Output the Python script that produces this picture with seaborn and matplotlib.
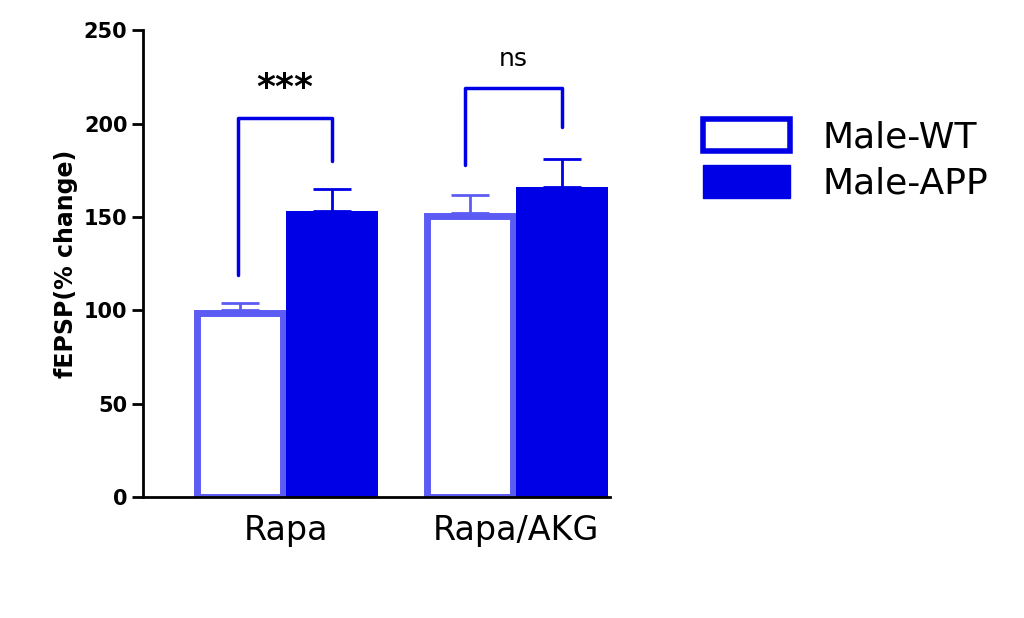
import matplotlib
matplotlib.use("Agg")
import matplotlib.pyplot as plt
import seaborn as sns
import pandas as pd
import numpy as np
from matplotlib.patches import Patch

categories = ["Rapa", "Rapa/AKG"]
groups = ["Male-WT", "Male-APP"]
wt_mean = [100, 152]
app_mean = [153, 166]
wt_sem = [4, 10]
app_sem = [12, 15]

sns.set_style("ticks")
plt.rcParams['font.family'] = ['DejaVu Sans']
plt.rcParams['text.color'] = 'black'
plt.rcParams['xtick.color'] = 'black'
plt.rcParams['ytick.color'] = 'black'
plt.rcParams['axes.labelcolor'] = 'black'
plt.rcParams['axes.edgecolor'] = 'black'

df = pd.DataFrame({
    "cat": categories * 2,
    "grp": [groups[0]] * 2 + [groups[1]] * 2,
    "val": wt_mean + app_mean,
})

fig = plt.figure(figsize=(10.24, 6.18), dpi=100)
ax = fig.add_axes([0.14, 0.196, 0.456, 0.755])
wt_edge = "#5c5cf5"
app_col = "#0000e6"
sns.barplot(data=df, x="cat", y="val", hue="grp", hue_order=groups,
            palette=["white", app_col], ax=ax, errorbar=None, legend=False,
            linewidth=0, saturation=1)
for i, p in enumerate(ax.patches[:4]):
    if i < 2:
        p.set_edgecolor(wt_edge); p.set_linewidth(5)
        x0 = p.get_x(); w = p.get_width()
        p.set_x(x0 + 0.012); p.set_width(w - 0.024)
        p.set_height(p.get_height() - 1.5)
    else:
        p.set_edgecolor(app_col); p.set_linewidth(0)

xs_wt = [-0.2, 0.8]
xs_app = [0.2, 1.2]
ax.errorbar(xs_wt, wt_mean, yerr=[np.zeros(2), wt_sem], fmt="none",
            ecolor=wt_edge, elinewidth=2, capsize=14, capthick=2)
ax.errorbar(xs_app, app_mean, yerr=[np.zeros(2), app_sem], fmt="none",
            ecolor=app_col, elinewidth=2, capsize=14, capthick=2)

def bracket(x1, x2, y1, ytop, y2, text, ty, fs):
    ax.plot([x1, x1, x2, x2], [y1, ytop, ytop, y2], color=app_col, lw=2.5,
            clip_on=False)
    ax.text((x1 + x2) / 2, ty, text, ha="center", va="bottom", fontsize=fs,
            fontweight="bold" if text.startswith("*") else "normal")

bracket(-0.21, 0.2, 119, 203, 180, "***", 210, 26)
bracket(0.78, 1.2, 178, 219, 198, "ns", 228, 18)

ax.set_xlim(-0.62, 1.41)
ax.set_ylim(0, 250)
ax.set_yticks([0, 50, 100, 150, 200, 250])
ax.tick_params(axis="y", labelsize=15, width=2, length=8)
for t in ax.get_yticklabels():
    t.set_fontweight("bold")
ax.tick_params(axis="x", length=0, labelsize=24, pad=12)
ax.set_xlabel("")
ax.set_ylabel("fEPSP(% change)", fontsize=17, fontweight="bold")
for s in ["top", "right"]:
    ax.spines[s].set_visible(False)
ax.spines["left"].set_linewidth(2)
ax.spines["bottom"].set_linewidth(2)

handles = [Patch(facecolor="white", edgecolor=app_col, linewidth=4),
           Patch(facecolor=app_col, edgecolor=app_col)]
fig.legend(handles, groups, loc="upper left", bbox_to_anchor=(0.655, 0.86),
           frameon=False, fontsize=26, handlelength=2.4, handleheight=1.0,
           labelspacing=0.3, handletextpad=0.9)

fig.savefig("out.png", dpi=100)
